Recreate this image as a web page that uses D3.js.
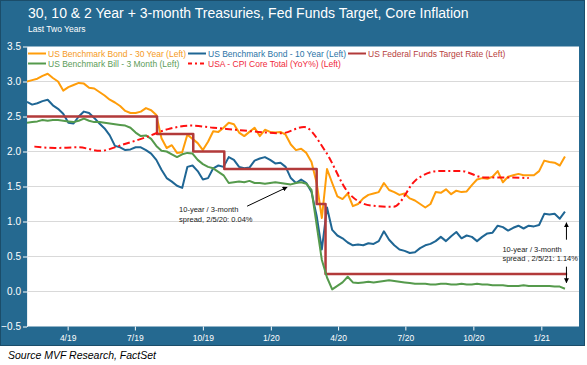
<!DOCTYPE html>
<html>
<head>
<meta charset="utf-8">
<script src="https://cdn.jsdelivr.net/npm/d3@7"></script>
<style>
  body { margin: 0; background: #fff; }
  svg { display: block; font-family: "Liberation Sans", Arial, sans-serif; }
</style>
</head>
<body>
<svg id="chart" width="587" height="365"></svg>
<script>
/////////////////////////////// DONNEES ///////////////////////////////
// weekly closes starting 2019-02-05
var seriesStart = "2019-02-05";

var bond30 = [3.00,3.02,3.04,3.08,3.11,3.05,3.00,2.87,2.92,2.95,
              2.98,2.97,2.91,2.90,2.85,2.80,2.74,2.70,2.65,2.58,
              2.55,2.55,2.57,2.62,2.59,2.52,2.19,2.05,2.09,1.98,
              1.99,2.24,2.18,2.12,2.02,2.14,2.29,2.28,2.34,2.41,
              2.39,2.27,2.22,2.28,2.34,2.22,2.31,2.28,2.27,2.28,
              2.24,2.10,2.02,2.04,1.98,1.85,1.55,1.05,1.75,1.55,
              1.36,1.32,1.40,1.22,1.25,1.33,1.38,1.40,1.42,1.55,
              1.45,1.42,1.38,1.40,1.33,1.30,1.25,1.20,1.25,1.42,
              1.41,1.46,1.39,1.44,1.42,1.43,1.52,1.60,1.62,1.61,
              1.64,1.72,1.56,1.64,1.66,1.68,1.66,1.66,1.66,1.72,
              1.87,1.85,1.84,1.80,1.93];

var bond10 = [2.71,2.67,2.69,2.72,2.74,2.66,2.61,2.54,2.41,2.40,
              2.50,2.57,2.55,2.48,2.40,2.33,2.23,2.08,2.06,2.02,
              2.03,2.06,2.06,2.02,1.97,1.88,1.74,1.62,1.57,1.51,
              1.48,1.78,1.80,1.72,1.60,1.62,1.76,1.80,1.78,1.92,
              1.88,1.78,1.76,1.77,1.87,1.90,1.92,1.88,1.83,1.84,
              1.78,1.62,1.55,1.60,1.55,1.42,1.08,0.60,1.20,0.88,
              0.80,0.76,0.70,0.66,0.67,0.66,0.69,0.68,0.72,0.86,
              0.74,0.66,0.60,0.58,0.55,0.56,0.62,0.66,0.68,0.72,
              0.78,0.72,0.79,0.85,0.76,0.80,0.78,0.72,0.78,0.83,
              0.84,0.94,0.92,0.87,0.91,0.94,0.90,0.94,0.93,0.95,
              1.11,1.10,1.11,1.04,1.14];

var bill3 = [2.41,2.42,2.43,2.45,2.44,2.45,2.45,2.44,2.43,2.42,
             2.44,2.47,2.44,2.42,2.42,2.41,2.40,2.39,2.38,2.37,
             2.34,2.27,2.22,2.23,2.18,2.08,2.01,2.00,1.96,1.92,
             1.96,1.98,1.97,1.88,1.82,1.78,1.76,1.71,1.66,1.55,
             1.56,1.57,1.56,1.58,1.55,1.55,1.54,1.55,1.56,1.55,
             1.54,1.53,1.55,1.56,1.54,1.45,0.95,0.45,0.20,0.03,
             0.08,0.13,0.21,0.13,0.12,0.13,0.14,0.13,0.14,0.15,
             0.16,0.15,0.14,0.13,0.12,0.11,0.11,0.11,0.10,0.10,
             0.11,0.11,0.10,0.10,0.11,0.10,0.10,0.11,0.10,0.10,
             0.09,0.09,0.09,0.08,0.08,0.08,0.09,0.08,0.08,0.08,
             0.08,0.08,0.07,0.07,0.04];

// fed funds target (upper bound), effective dates
var fedDates = ["2019-02-05","2019-07-31","2019-09-18","2019-10-30","2020-03-03","2020-03-15","2021-02-05"];
var fedRates = [2.50, 2.25, 2.00, 1.75, 1.25, 0.25, 0.25];

// core CPI YoY, monthly (mid-month)
var cpiMonths = ["2019-02-15","2019-03-15","2019-04-15","2019-05-15","2019-06-15","2019-07-15","2019-08-15",
                 "2019-09-15","2019-10-15","2019-11-15","2019-12-15","2020-01-15","2020-02-15","2020-03-15",
                 "2020-04-15","2020-05-15","2020-06-15","2020-07-15","2020-08-15","2020-09-15","2020-10-15",
                 "2020-11-15","2020-12-15"];
var cpiValues = [2.07,2.05,2.06,2.01,2.10,2.20,2.32,2.37,2.34,2.31,2.28,2.26,2.35,2.00,
                 1.41,1.23,1.21,1.59,1.72,1.72,1.63,1.63,1.62];

var yTicks = [-0.5, 0.0, 0.5, 1.0, 1.5, 2.0, 2.5, 3.0, 3.5];
var xTickDates = ["2019-04-01","2019-07-01","2019-10-01","2020-01-01","2020-04-01","2020-07-01","2020-10-01","2021-01-01"];
var xTickLabels = ["4/19","7/19","10/19","1/20","4/20","7/20","10/20","1/21"];

var legendLabels = ["US Benchmark Bond - 30 Year (Left)", "US Benchmark Bond - 10 Year (Left)",
                    "US Federal Funds Target Rate (Left)", "US Benchmark Bill - 3 Month (Left)",
                    "USA - CPI Core Total (YoY%) (Left)"];

var spreadDates = ["2020-01-23", "2021-02-04"];
var spreadLabels = [["10-year / 3-month", "spread, 2/5/20: 0.04%"],
                    ["10-year / 3-month", "spread , 2/5/21: 1.14%"]];

/////////////////////////////// MISE EN PAGE ///////////////////////////////
var parse = d3.timeParse("%Y-%m-%d");
var svg = d3.select("#chart");
var plotLeft = 27, plotRight = 579, plotTop = 46.5, plotBottom = 326.5;

var x = d3.scaleTime()
          .domain([parse("2019-02-05"), parse("2021-02-21")])
          .range([plotLeft, plotRight]);
var y = d3.scaleLinear()
          .domain([-0.5, 3.5])
          .range([plotBottom, plotTop]);

// cadre bleu
svg.append("rect")
   .attr("x", 0.5).attr("y", 0.5)
   .attr("width", 584).attr("height", 345)
   .style("fill", "#256990")
   .style("stroke", "#1b4d6a");

svg.append("text")
   .attr("x", 28).attr("y", 18)
   .style("fill", "#fff").style("font-size", "14px")
   .text("30, 10 & 2 Year + 3-month Treasuries, Fed Funds Target, Core Inflation");
svg.append("text")
   .attr("x", 28).attr("y", 31.5)
   .style("fill", "#fff").style("font-size", "8.5px")
   .text("Last Two Years");

svg.append("text")
   .attr("x", 8).attr("y", 359)
   .style("fill", "#000").style("font-size", "10.5px").style("font-style", "italic")
   .text("Source MVF Research, FactSet");

// zone du graphique
svg.append("rect")
   .attr("x", plotLeft).attr("y", plotTop)
   .attr("width", plotRight - plotLeft).attr("height", plotBottom - plotTop)
   .style("fill", "#fff");

svg.append("defs").append("clipPath").attr("id", "plotClip")
   .append("rect")
   .attr("x", plotLeft).attr("y", plotTop)
   .attr("width", plotRight - plotLeft).attr("height", plotBottom - plotTop);

// grille
svg.append("g").selectAll("line")
   .data(yTicks.slice(1, -1))
   .enter().append("line")
   .attr("x1", plotLeft).attr("x2", plotRight)
   .attr("y1", function(d) { return y(d); })
   .attr("y2", function(d) { return y(d); })
   .style("stroke", "#d9d9d9").style("stroke-width", 1);

// axes
var yAxis = svg.append("g")
   .attr("transform", "translate(" + plotLeft + ",0)")
   .call(d3.axisLeft(y).tickValues(yTicks).tickFormat(d3.format(".1f")).tickSize(4).tickSizeOuter(0).tickPadding(2));
yAxis.select(".domain").style("stroke", "#e8eef3");
yAxis.selectAll(".tick line").style("stroke", "#fff");
yAxis.selectAll("text").style("fill", "#fff").style("font-size", "10px").style("font-family", "Liberation Sans, Arial, sans-serif");

var xAxis = svg.append("g")
   .attr("transform", "translate(0," + plotBottom + ")")
   .call(d3.axisBottom(x)
           .tickValues(xTickDates.map(parse))
           .tickFormat(function(d, i) { return xTickLabels[i]; })
           .tickSize(4).tickSizeOuter(0).tickPadding(4));
xAxis.select(".domain").remove();
xAxis.selectAll(".tick line").style("stroke", "#fff");
xAxis.selectAll("text").style("fill", "#fff").style("font-size", "8.5px").style("font-family", "Liberation Sans, Arial, sans-serif");

/////////////////////////////// COURBES ///////////////////////////////
var start = parse(seriesStart);
function weekly(values) {
  return values.map(function(v, i) { return { date: d3.timeDay.offset(start, 7 * i), value: v }; });
}

var line = d3.line()
             .x(function(d) { return x(d.date); })
             .y(function(d) { return y(d.value); });

var fedData = fedDates.map(function(d, i) { return { date: parse(d), value: fedRates[i] }; });
var cpiData = cpiMonths.map(function(d, i) { return { date: parse(d), value: cpiValues[i] }; });

var series = [
  { data: weekly(bond30), color: "#ff9d0a", text: "#f59a1c", width: 2, curve: d3.curveLinear },
  { data: weekly(bond10), color: "#1f6694", text: "#2a74a6", width: 2, curve: d3.curveLinear },
  { data: fedData,        color: "#b23a3a", text: "#b8413d", width: 2.5, curve: d3.curveStepAfter },
  { data: weekly(bill3),  color: "#559a4c", text: "#5c9c58", width: 2, curve: d3.curveLinear },
  { data: cpiData,        color: "#ff1010", text: "#f0283a", width: 2, curve: d3.curveMonotoneX, dash: "7,3,2,3" }
];

var g = svg.append("g").attr("clip-path", "url(#plotClip)");
series.forEach(function(s) {
  g.append("path")
   .datum(s.data)
   .attr("d", line.curve(s.curve))
   .style("fill", "none")
   .style("stroke", s.color)
   .style("stroke-width", s.width)
   .style("stroke-linejoin", "round")
   .style("stroke-dasharray", s.dash || null);
});

/////////////////////////////// LEGENDE ///////////////////////////////
var legendPos = [[28, 53.5], [188, 53.5], [348, 53.5], [28, 63.5], [188, 63.5]];
var legend = svg.append("g");
series.forEach(function(s, i) {
  var p = legendPos[i];
  legend.append("line")
        .attr("x1", p[0]).attr("x2", p[0] + 18)
        .attr("y1", p[1]).attr("y2", p[1])
        .style("stroke", s.color)
        .style("stroke-width", 2)
        .style("stroke-dasharray", s.dash ? "4,3,2,3" : null);
  legend.append("text")
        .attr("x", p[0] + 20).attr("y", p[1] + 3)
        .style("fill", s.text).style("font-size", "8.5px")
        .text(legendLabels[i]);
});

/////////////////////////////// ANNOTATIONS ///////////////////////////////
svg.append("defs").append("marker")
   .attr("id", "arrow").attr("viewBox", "0 0 10 10")
   .attr("refX", 9).attr("refY", 5)
   .attr("markerWidth", 5).attr("markerHeight", 5)
   .attr("orient", "auto")
   .append("path").attr("d", "M0,0L10,5L0,10z").style("fill", "#000");

var notes = svg.append("g").style("font-size", "7.5px").style("fill", "#1a1a1a");

// spread 2/5/20 : fleche oblique vers les courbes
var t1 = { x: x(parse(spreadDates[0])), y: y(1.49) };
notes.append("line")
     .attr("x1", t1.x - 40).attr("y1", t1.y + 19)
     .attr("x2", t1.x).attr("y2", t1.y)
     .attr("marker-end", "url(#arrow)")
     .style("stroke", "#000").style("stroke-width", 1);
spreadLabels[0].forEach(function(l, i) {
  notes.append("text").attr("x", t1.x - 108).attr("y", t1.y + 25 + i * 9.5).text(l);
});

// spread 2/5/21 : deux fleches verticales
var last = bond10.length - 1;
var xr = x(parse(spreadDates[1]));
var yTop = y(bond10[last]), yBot = y(bill3[last]);
notes.append("line")
     .attr("x1", xr).attr("x2", xr)
     .attr("y1", yTop + 28).attr("y2", yTop + 11)
     .attr("marker-end", "url(#arrow)")
     .style("stroke", "#000").style("stroke-width", 1);
notes.append("line")
     .attr("x1", xr).attr("x2", xr)
     .attr("y1", yBot - 22).attr("y2", yBot - 6)
     .attr("marker-end", "url(#arrow)")
     .style("stroke", "#000").style("stroke-width", 1);
spreadLabels[1].forEach(function(l, i) {
  notes.append("text").attr("x", xr - 64).attr("y", yTop + 40 + i * 9.5).text(l);
});
</script>
</body>
